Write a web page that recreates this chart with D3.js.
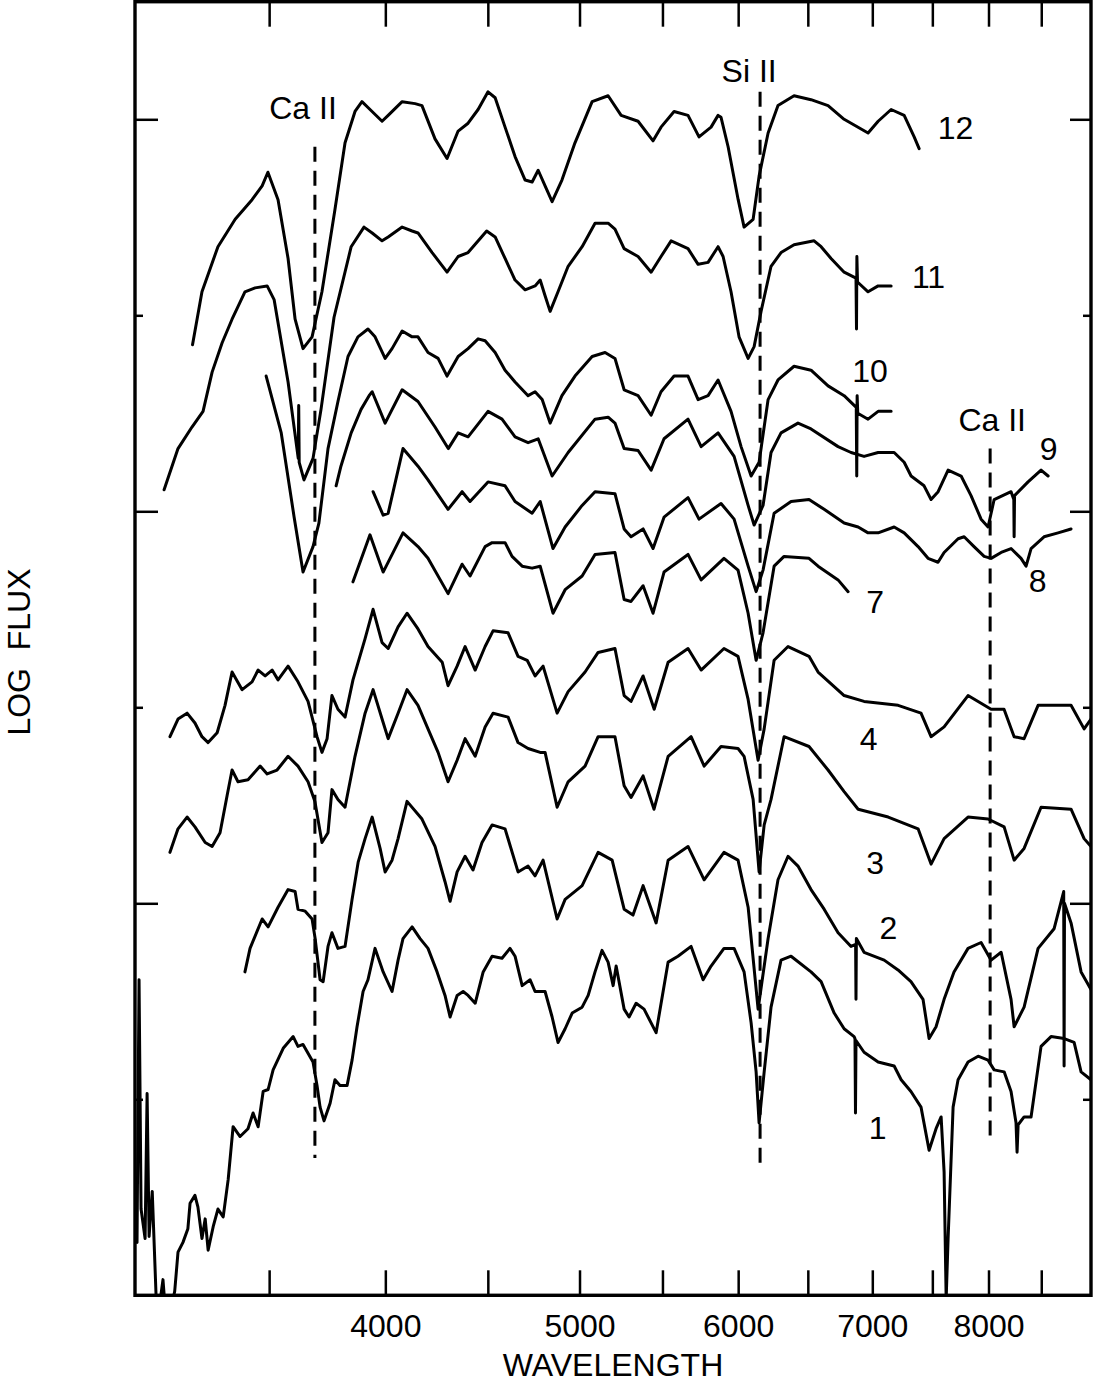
<!DOCTYPE html>
<html><head><meta charset="utf-8">
<script src="https://cdn.jsdelivr.net/npm/d3@7"></script>
<style>html,body{margin:0;padding:0;background:#fff}</style>
</head><body>
<svg id="chart" width="1094" height="1384"></svg>
<script>
// ---- data: [wavelength (Å), log flux + offset] ----
const spec1 = [[3007,0.27],[3014,1.61],[3021,0.44],[3035,0.29],[3042,1.03],[3049,0.30],[3060,0.53],[3074,-0.02],[3084,-0.07],[3098,0.08],[3105,-0.05],[3126,-0.07],[3140,0.02],[3152,0.22],[3170,0.27],[3188,0.34],[3196,0.47],[3214,0.51],[3225,0.45],[3240,0.29],[3252,0.39],[3263,0.23],[3282,0.35],[3300,0.44],[3320,0.40],[3339,0.59],[3358,0.86],[3385,0.81],[3416,0.85],[3436,0.93],[3456,0.86],[3476,1.04],[3496,1.05],[3516,1.15],[3557,1.26],[3598,1.32],[3618,1.27],[3639,1.28],[3681,1.19],[3698,1.07],[3711,0.96],[3728,0.89],[3754,0.98],[3775,1.10],[3797,1.07],[3828,1.07],[3850,1.20],[3872,1.37],[3899,1.55],[3921,1.61],[3953,1.77],[3990,1.65],[4031,1.55],[4059,1.71],[4082,1.82],[4125,1.88],[4163,1.82],[4201,1.77],[4245,1.65],[4284,1.53],[4309,1.42],[4344,1.53],[4374,1.55],[4399,1.53],[4435,1.49],[4476,1.65],[4522,1.73],[4574,1.72],[4616,1.77],[4643,1.73],[4681,1.58],[4724,1.61],[4751,1.55],[4806,1.55],[4845,1.42],[4878,1.29],[4918,1.36],[4958,1.44],[5015,1.47],[5050,1.53],[5090,1.65],[5131,1.76],[5167,1.70],[5197,1.58],[5215,1.68],[5263,1.46],[5293,1.42],[5336,1.49],[5385,1.46],[5460,1.34],[5536,1.70],[5599,1.73],[5684,1.78],[5763,1.61],[5816,1.68],[5903,1.77],[5972,1.77],[6041,1.65],[6090,1.39],[6125,1.14],[6146,0.88],[6182,1.14],[6231,1.47],[6303,1.71],[6376,1.73],[6524,1.65],[6600,1.60],[6700,1.44],[6777,1.36],[6855,1.32],[6862,1.31],[6866,0.93],[6870,1.30],[6934,1.24],[7047,1.19],[7178,1.17],[7236,1.10],[7318,1.04],[7403,0.96],[7472,0.74],[7532,0.85],[7576,0.91],[7602,0.63],[7620,-0.02],[7637,0.29],[7681,0.96],[7725,1.10],[7814,1.19],[7905,1.22],[7996,1.20],[8052,1.15],[8145,1.14],[8210,1.04],[8257,0.88],[8267,0.73],[8277,0.87],[8334,0.91],[8401,0.91],[8498,1.27],[8596,1.32],[8727,1.31],[8827,1.29],[8898,1.14],[9000,1.10]];

const spec2 = [[3404,1.65],[3424,1.77],[3472,1.92],[3496,1.88],[3536,1.98],[3577,2.07],[3606,2.06],[3618,1.97],[3648,1.96],[3677,1.92],[3690,1.82],[3711,1.61],[3724,1.60],[3745,1.78],[3762,1.85],[3788,1.77],[3819,1.78],[3850,2.02],[3877,2.21],[3908,2.33],[3940,2.44],[3976,2.28],[3999,2.16],[4031,2.22],[4059,2.33],[4101,2.52],[4172,2.43],[4235,2.29],[4284,2.11],[4309,2.01],[4344,2.16],[4384,2.24],[4424,2.17],[4470,2.31],[4522,2.40],[4590,2.38],[4659,2.16],[4713,2.19],[4751,2.14],[4795,2.22],[4873,1.92],[4918,2.02],[5015,2.09],[5108,2.26],[5191,2.22],[5263,1.97],[5317,1.94],[5379,2.09],[5460,1.90],[5536,2.22],[5664,2.29],[5770,2.12],[5903,2.26],[5999,2.22],[6069,1.98],[6139,1.46],[6210,1.82],[6281,2.12],[6354,2.24],[6427,2.19],[6524,2.07],[6623,1.97],[6730,1.85],[6831,1.78],[6867,1.79],[6870,1.51],[6873,1.82],[6934,1.75],[7096,1.71],[7210,1.66],[7318,1.60],[7420,1.51],[7472,1.31],[7532,1.37],[7602,1.51],[7689,1.65],[7814,1.77],[7932,1.80],[8024,1.71],[8117,1.75],[8210,1.51],[8239,1.37],[8334,1.47],[8469,1.77],[8626,1.87],[8722,2.06],[8726,1.17],[8730,2.00],[8796,1.90],[8898,1.65],[9000,1.56]];

const spec3 = [[3123,2.26],[3152,2.38],[3185,2.44],[3214,2.39],[3252,2.31],[3278,2.29],[3308,2.36],[3335,2.55],[3354,2.68],[3377,2.62],[3416,2.63],[3464,2.70],[3492,2.66],[3532,2.68],[3577,2.75],[3618,2.70],[3660,2.62],[3689,2.52],[3719,2.31],[3745,2.36],[3762,2.58],[3788,2.53],[3819,2.49],[3863,2.75],[3908,2.97],[3944,3.09],[3985,2.94],[4013,2.84],[4059,2.97],[4101,3.09],[4153,3.01],[4201,2.89],[4250,2.77],[4299,2.62],[4344,2.73],[4384,2.84],[4435,2.75],[4486,2.90],[4527,2.97],[4606,2.95],[4659,2.82],[4713,2.79],[4779,2.77],[4806,2.77],[4873,2.49],[4935,2.62],[5032,2.70],[5108,2.85],[5208,2.85],[5263,2.60],[5305,2.54],[5379,2.65],[5447,2.48],[5536,2.75],[5684,2.85],[5770,2.70],[5883,2.80],[5999,2.79],[6041,2.75],[6104,2.53],[6146,2.16],[6182,2.40],[6231,2.53],[6325,2.85],[6509,2.80],[6653,2.68],[6777,2.57],[6887,2.48],[7129,2.44],[7378,2.38],[7489,2.20],[7602,2.33],[7814,2.44],[7996,2.43],[8145,2.39],[8239,2.22],[8334,2.28],[8498,2.49],[8796,2.48],[8929,2.33],[9000,2.29]];

const spec4 = [[3123,2.85],[3152,2.94],[3185,2.97],[3214,2.92],[3240,2.85],[3263,2.82],[3297,2.87],[3327,3.01],[3354,3.18],[3393,3.09],[3432,3.13],[3456,3.19],[3484,3.16],[3512,3.19],[3536,3.14],[3577,3.21],[3618,3.13],[3660,3.03],[3698,2.85],[3719,2.77],[3741,2.84],[3762,3.06],[3788,2.99],[3819,2.95],[3854,3.14],[3908,3.35],[3944,3.50],[3985,3.33],[4013,3.30],[4059,3.41],[4101,3.48],[4153,3.40],[4201,3.31],[4270,3.23],[4299,3.11],[4344,3.21],[4384,3.31],[4435,3.19],[4486,3.31],[4527,3.39],[4606,3.38],[4659,3.26],[4708,3.24],[4751,3.16],[4795,3.21],[4873,2.97],[4935,3.08],[5032,3.18],[5108,3.28],[5208,3.30],[5263,3.06],[5305,3.03],[5379,3.16],[5448,2.99],[5536,3.23],[5664,3.30],[5750,3.19],[5903,3.30],[5999,3.26],[6069,3.04],[6139,2.73],[6182,2.89],[6253,3.24],[6354,3.31],[6509,3.26],[6577,3.18],[6777,3.06],[6934,3.03],[7211,3.01],[7403,2.97],[7489,2.85],[7602,2.90],[7814,3.06],[8024,2.99],[8144,2.99],[8239,2.85],[8334,2.84],[8469,3.01],[8796,3.01],[8929,2.89],[9000,2.94]];

const spec7 = [[3854,3.64],[3930,3.88],[3990,3.69],[4082,3.89],[4153,3.82],[4201,3.76],[4299,3.58],[4369,3.73],[4409,3.67],[4486,3.82],[4522,3.84],[4590,3.84],[4627,3.77],[4681,3.72],[4735,3.71],[4779,3.72],[4850,3.48],[4918,3.60],[5015,3.67],[5090,3.78],[5208,3.79],[5263,3.55],[5305,3.54],[5379,3.62],[5441,3.48],[5510,3.69],[5664,3.78],[5750,3.65],[5903,3.76],[5999,3.70],[6069,3.48],[6125,3.24],[6174,3.38],[6253,3.72],[6325,3.77],[6509,3.76],[6577,3.72],[6730,3.65],[6808,3.59]];

const spec8 = [[3944,4.10],[3990,3.98],[4013,3.99],[4082,4.32],[4153,4.23],[4201,4.16],[4299,4.01],[4369,4.10],[4409,4.05],[4501,4.15],[4590,4.13],[4643,4.05],[4735,3.99],[4779,4.05],[4850,3.81],[4918,3.92],[5015,4.03],[5090,4.10],[5208,4.09],[5263,3.91],[5305,3.87],[5379,3.91],[5441,3.81],[5510,3.97],[5664,4.07],[5736,3.96],[5883,4.04],[5972,3.96],[6069,3.72],[6125,3.59],[6174,3.70],[6253,3.99],[6376,4.05],[6509,4.06],[6623,4.01],[6777,3.94],[6887,3.92],[6966,3.89],[7047,3.89],[7178,3.92],[7261,3.89],[7378,3.82],[7463,3.76],[7549,3.74],[7602,3.79],[7725,3.86],[7779,3.87],[7868,3.82],[7960,3.77],[8024,3.76],[8117,3.79],[8210,3.81],[8305,3.76],[8353,3.72],[8401,3.81],[8527,3.87],[8666,3.89],[8796,3.91]];

const spec9 = [[3780,4.13],[3801,4.23],[3846,4.40],[3890,4.52],[3926,4.59],[3940,4.61],[3999,4.45],[4078,4.62],[4153,4.56],[4235,4.43],[4300,4.32],[4349,4.40],[4399,4.38],[4501,4.51],[4574,4.47],[4643,4.38],[4713,4.35],[4768,4.37],[4845,4.18],[4935,4.30],[5090,4.47],[5167,4.48],[5208,4.45],[5263,4.32],[5348,4.31],[5429,4.21],[5510,4.37],[5664,4.47],[5750,4.33],[5863,4.40],[5972,4.28],[6069,4.03],[6111,3.93],[6174,4.03],[6231,4.30],[6303,4.40],[6427,4.45],[6524,4.42],[6730,4.33],[6831,4.30],[6934,4.28],[7047,4.30],[7178,4.30],[7261,4.25],[7319,4.18],[7429,4.13],[7489,4.06],[7550,4.10],[7637,4.21],[7752,4.18],[7841,4.08],[7932,3.96],[7996,3.92],[8052,4.06],[8210,4.10],[8236,4.06],[8239,3.87],[8243,4.08],[8372,4.15],[8498,4.21],[8567,4.18]];

const spec10 = [[3488,4.69],[3549,4.40],[3602,3.97],[3639,3.69],[3681,3.82],[3706,3.94],[3745,4.32],[3788,4.56],[3832,4.79],[3876,4.89],[3921,4.93],[3953,4.89],[3999,4.78],[4031,4.83],[4078,4.92],[4125,4.89],[4153,4.89],[4201,4.81],[4250,4.78],[4294,4.69],[4349,4.79],[4399,4.83],[4450,4.88],[4486,4.87],[4538,4.81],[4590,4.72],[4643,4.66],[4713,4.59],[4751,4.61],[4790,4.57],[4834,4.45],[4900,4.59],[4974,4.69],[5073,4.79],[5149,4.81],[5208,4.78],[5263,4.62],[5348,4.59],[5429,4.49],[5491,4.61],[5574,4.69],[5664,4.69],[5730,4.57],[5796,4.59],[5863,4.67],[5951,4.51],[6020,4.33],[6090,4.18],[6146,4.25],[6210,4.57],[6281,4.67],[6398,4.74],[6524,4.72],[6653,4.64],[6777,4.59],[6872,4.53],[6876,4.18],[6879,4.59],[6884,4.50],[6966,4.47],[7047,4.51],[7153,4.51]];

const spec11 = [[3102,4.11],[3152,4.32],[3203,4.43],[3244,4.51],[3278,4.71],[3316,4.86],[3354,4.98],[3404,5.12],[3444,5.14],[3492,5.15],[3520,5.08],[3577,4.66],[3619,4.27],[3621,4.54],[3623,4.25],[3643,4.16],[3681,4.27],[3715,4.52],[3771,4.99],[3846,5.35],[3903,5.45],[3940,5.42],[3985,5.38],[4013,5.40],[4078,5.45],[4125,5.43],[4153,5.42],[4221,5.32],[4294,5.22],[4349,5.30],[4399,5.32],[4494,5.43],[4538,5.40],[4590,5.29],[4643,5.18],[4697,5.13],[4751,5.15],[4779,5.18],[4806,5.10],[4834,5.02],[4878,5.12],[4935,5.25],[5015,5.35],[5090,5.47],[5167,5.47],[5208,5.44],[5263,5.34],[5348,5.30],[5429,5.22],[5491,5.30],[5555,5.38],[5664,5.34],[5730,5.26],[5796,5.27],[5863,5.35],[5897,5.30],[5951,5.12],[6006,4.89],[6069,4.78],[6111,4.84],[6160,5.02],[6231,5.25],[6303,5.32],[6398,5.36],[6547,5.38],[6600,5.35],[6676,5.29],[6777,5.22],[6870,5.19],[6874,4.93],[6877,5.30],[6882,5.17],[6966,5.12],[7047,5.15],[7153,5.15]];

const spec12 = [[3205,4.85],[3240,5.12],[3300,5.35],[3366,5.49],[3432,5.59],[3472,5.66],[3495,5.73],[3536,5.59],[3577,5.29],[3606,4.98],[3639,4.83],[3677,4.89],[3719,5.12],[3775,5.54],[3819,5.88],[3863,6.04],[3894,6.09],[3921,6.06],[3985,5.99],[4013,6.02],[4078,6.09],[4139,6.08],[4172,6.07],[4235,5.90],[4294,5.80],[4349,5.94],[4399,5.98],[4450,6.05],[4501,6.14],[4538,6.11],[4590,5.96],[4643,5.81],[4697,5.69],[4735,5.68],[4768,5.74],[4806,5.66],[4845,5.58],[4900,5.69],[4974,5.88],[5073,6.09],[5167,6.12],[5245,6.02],[5348,5.99],[5441,5.89],[5491,5.96],[5574,6.04],[5664,6.02],[5736,5.91],[5816,5.96],[5863,6.02],[5883,6.01],[5931,5.86],[6000,5.59],[6041,5.45],[6104,5.49],[6146,5.71],[6210,5.93],[6281,6.07],[6398,6.12],[6524,6.10],[6653,6.07],[6777,6.00],[6966,5.93],[7047,5.99],[7153,6.05],[7261,6.02],[7345,5.91],[7387,5.85]];

const spectra = [spec1, spec2, spec3, spec4, spec7, spec8, spec9, spec10, spec11, spec12];

// spectrum labels
const specLabels = ["1","2","3","4","7","8","9","10","11","12"];
const labelWave  = [7043,7130,7022,6970,7022,8465,8572,6982,7467,7703];
const labelFlux  = [0.80,1.82,2.15,2.78,3.48,3.59,4.26,4.66,5.14,5.90];

// line identifications
const lineNames      = ["Ca II","Si II","Ca II"];
const lineWave       = [3689,6153,8015];
const lineTop        = [5.86,6.14,4.32];
const lineBottom     = [0.70,0.63,0.77];
const lineLabelWave  = [3639,6076,8034];
const lineLabelFlux  = [6.00,6.19,4.41];

// axes
const xTicks = [3500,4000,4500,5000,5500,6000,6500,7000,7500,8000,8500];
const xTickLabels = [4000,5000,6000,7000,8000];
const yLongTicks = [2,4,6];
const yShortTicks = [1,3,5];

// ---- drawing ----
const svg = d3.select("#chart");
const L = 135, R = 1091, T = 1.7, B = 1295.3;
const font = "'Liberation Sans', Arial, Helvetica, sans-serif";
const x = d3.scaleLog().domain([3000, 9000]).range([L, R]);
const y = d3.scaleLinear().domain([0, 6.6]).range([B, T]);

svg.append("rect").attr("width",1094).attr("height",1384).attr("fill","#fff");
svg.append("defs").append("clipPath").attr("id","plotclip")
  .append("rect").attr("x",L).attr("y",T).attr("width",R-L).attr("height",B-T);

const plot = svg.append("g").attr("clip-path","url(#plotclip)");
const line = d3.line().x(d => x(d[0])).y(d => y(d[1]));

// dashed identification lines
lineWave.forEach((w,i) => {
  plot.append("line")
    .attr("x1", x(w)).attr("x2", x(w))
    .attr("y1", y(lineTop[i])).attr("y2", y(lineBottom[i]))
    .attr("stroke","#000").attr("stroke-width",3)
    .attr("stroke-dasharray","15,9");
});

spectra.forEach(s => {
  plot.append("path").attr("d", line(s))
    .attr("fill","none").attr("stroke","#000")
    .attr("stroke-width",3).attr("stroke-linejoin","round").attr("stroke-linecap","round");
});

function styleAxis(g){
  g.select(".domain").remove();
  g.selectAll("line").attr("stroke","#000").attr("stroke-width",2.5);
  g.selectAll("text").attr("font-family",font).attr("font-size",32).attr("fill","#000");
}
const fmt = d => xTickLabels.includes(d) ? String(d) : "";
svg.append("g").attr("transform",`translate(0,${B})`)
  .call(d3.axisBottom(x).tickValues(xTicks).tickFormat(fmt).tickSize(-25).tickPadding(19))
  .call(styleAxis);
svg.append("g").attr("transform",`translate(0,${T})`)
  .call(d3.axisTop(x).tickValues(xTicks).tickFormat(() => "").tickSize(-25))
  .call(styleAxis);
svg.append("g").attr("transform",`translate(${L},0)`)
  .call(d3.axisLeft(y).tickValues(yLongTicks).tickFormat(() => "").tickSize(-23))
  .call(styleAxis);
svg.append("g").attr("transform",`translate(${L},0)`)
  .call(d3.axisLeft(y).tickValues(yShortTicks).tickFormat(() => "").tickSize(-8))
  .call(styleAxis);
svg.append("g").attr("transform",`translate(${R},0)`)
  .call(d3.axisRight(y).tickValues(yLongTicks).tickFormat(() => "").tickSize(-21))
  .call(styleAxis);
svg.append("g").attr("transform",`translate(${R},0)`)
  .call(d3.axisRight(y).tickValues(yShortTicks).tickFormat(() => "").tickSize(-8))
  .call(styleAxis);

// frame
svg.append("rect").attr("x",L).attr("y",T).attr("width",R-L).attr("height",B-T)
  .attr("fill","none").attr("stroke","#000").attr("stroke-width",3.4);

// labels
specLabels.forEach((t,i) => {
  svg.append("text").attr("x", x(labelWave[i])).attr("y", y(labelFlux[i]))
    .attr("text-anchor","middle").attr("font-family",font).attr("font-size",32)
    .attr("fill","#000").text(t);
});
lineNames.forEach((t,i) => {
  svg.append("text").attr("x", x(lineLabelWave[i])).attr("y", y(lineLabelFlux[i]))
    .attr("text-anchor","middle").attr("font-family",font).attr("font-size",32)
    .attr("fill","#000").text(t);
});

// axis titles
svg.append("text").attr("x",(L+R)/2).attr("y",1376).attr("text-anchor","middle")
  .attr("font-family",font).attr("font-size",32).attr("fill","#000").text("WAVELENGTH");
svg.append("text").attr("transform","translate(30,652) rotate(-90)").attr("text-anchor","middle")
  .attr("font-family",font).attr("font-size",32).attr("fill","#000")
  .style("white-space","pre").text("LOG  FLUX");
</script>
</body></html>
